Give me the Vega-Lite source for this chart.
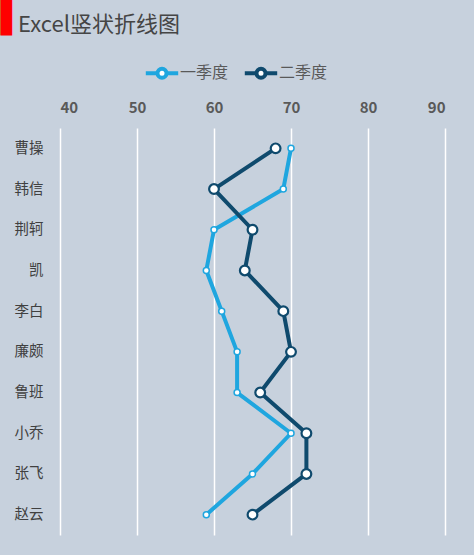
{
  "$schema": "https://vega.github.io/schema/vega-lite/v6.json",
  "width": 385,
  "height": 407,
  "autosize": {"type": "none"},
  "padding": {"left": 60, "top": 128, "right": 29, "bottom": 20},
  "background": "#c7d1dd",
  "title": {
    "text": "Excel竖状折线图",
    "anchor": "start",
    "frame": "group",
    "dx": -42,
    "dy": 36,
    "offset": 2,
    "fontSize": 22,
    "fontWeight": "normal",
    "font": "Noto Sans CJK SC",
    "color": "#454545"
  },
  "data": {
    "values": [
      {"name": "曹操", "q": "一季度", "v": 70},
      {"name": "韩信", "q": "一季度", "v": 69},
      {"name": "荆轲", "q": "一季度", "v": 60},
      {"name": "凯", "q": "一季度", "v": 59},
      {"name": "李白", "q": "一季度", "v": 61},
      {"name": "廉颇", "q": "一季度", "v": 63},
      {"name": "鲁班", "q": "一季度", "v": 63},
      {"name": "小乔", "q": "一季度", "v": 70},
      {"name": "张飞", "q": "一季度", "v": 65},
      {"name": "赵云", "q": "一季度", "v": 59},
      {"name": "曹操", "q": "二季度", "v": 68},
      {"name": "韩信", "q": "二季度", "v": 60},
      {"name": "荆轲", "q": "二季度", "v": 65},
      {"name": "凯", "q": "二季度", "v": 64},
      {"name": "李白", "q": "二季度", "v": 69},
      {"name": "廉颇", "q": "二季度", "v": 70},
      {"name": "鲁班", "q": "二季度", "v": 66},
      {"name": "小乔", "q": "二季度", "v": 72},
      {"name": "张飞", "q": "二季度", "v": 72},
      {"name": "赵云", "q": "二季度", "v": 65}
    ]
  },
  "encoding": {
    "x": {
      "field": "v",
      "type": "quantitative",
      "scale": {"domain": [40, 90], "nice": false, "zero": false},
      "axis": {
        "orient": "top",
        "values": [40, 50, 60, 70, 80, 90],
        "title": null,
        "domain": false,
        "ticks": false,
        "grid": true,
        "gridColor": "#ffffff",
        "gridWidth": 1.5,
        "labelFont": "Noto Sans CJK SC",
        "labelFontSize": 15,
        "labelFontWeight": "bold",
        "labelColor": "#595959",
        "labelPadding": 13
      }
    },
    "y": {
      "field": "name",
      "type": "nominal",
      "sort": null,
      "scale": {"type": "point", "padding": 0.5},
      "axis": {
        "title": "▌",
        "titleFont": "DejaVu Sans",
        "titleFontSize": 30,
        "titleFontWeight": "normal",
        "titleColor": "#ff0000",
        "titleAngle": 0,
        "titleAlign": "left",
        "titleBaseline": "top",
        "titleX": -60,
        "titleY": -125,
        "domain": false,
        "ticks": false,
        "grid": false,
        "labelFont": "Noto Sans CJK SC",
        "labelFontSize": 14.5,
        "labelColor": "#404040",
        "labelPadding": 17
      }
    },
    "color": {
      "field": "q",
      "type": "nominal",
      "sort": ["一季度", "二季度"],
      "scale": {"range": ["#1fa6df", "#0f4a6d"]},
      "legend": {
        "title": null,
        "orient": "none",
        "direction": "horizontal",
        "legendX": 83,
        "legendY": -63,
        "symbolType": "M-3.6,0L-1,0M1,0L3.6,0M1,0A1,1 0 1,0 -1,0A1,1 0 1,0 1,0",
        "symbolSize": 81,
        "symbolStrokeWidth": 4,
        "symbolFillColor": "#ffffff",
        "labelFont": "Noto Sans CJK SC",
        "labelFontSize": 16,
        "labelColor": "#595959",
        "labelOffset": 10,
        "columnPadding": 7,
        "symbolOffset": 11
      }
    }
  },
  "layer": [
    {
      "mark": {"type": "line", "strokeWidth": 4, "strokeJoin": "round"},
      "encoding": {"order": {"value": null}}
    },
    {
      "mark": {"type": "point", "filled": false, "fill": "#ffffff", "opacity": 1},
      "encoding": {
        "size": {
          "field": "q",
          "type": "nominal",
          "scale": {"domain": ["一季度", "二季度"], "range": [36, 95]},
          "legend": null
        },
        "strokeWidth": {
          "field": "q",
          "type": "nominal",
          "scale": {"domain": ["一季度", "二季度"], "range": [1.5, 2.2]},
          "legend": null
        }
      }
    }
  ],
  "config": {"view": {"stroke": null}}
}
